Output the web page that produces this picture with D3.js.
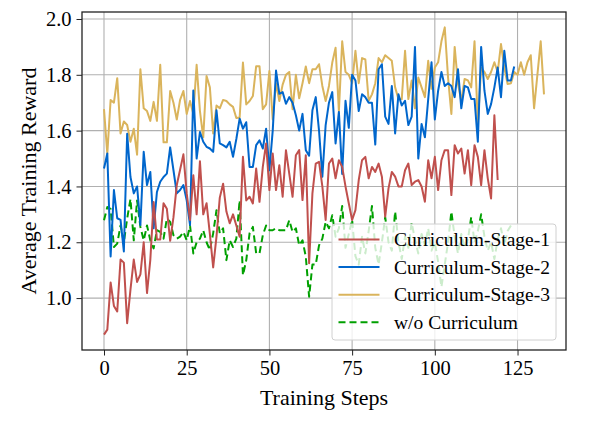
<!DOCTYPE html>
<html>
<head>
<meta charset="utf-8">
<script src="https://cdn.jsdelivr.net/npm/d3@7"></script>
<style>
  html, body { margin: 0; padding: 0; background: #fff; }
  svg text { font-family: "Liberation Serif", "Times New Roman", serif !important; fill: #000; }
</style>
</head>
<body>
<div id="chart"></div>
<script>
// training reward curves (one per step)
const stage1Reward = [
  0.869, 0.887, 1.056, 0.972, 0.952, 1.138, 1.127, 0.91, 1.03, 1.138,
  1.058, 1.085, 1.2, 1.018, 1.137, 1.344, 1.21, 1.21, 1.34, 1.32,
  1.205, 1.29, 1.405, 1.46, 1.515, 1.375, 1.28, 1.44, 1.3, 1.49,
  1.3, 1.34, 1.23, 1.11, 1.22, 1.36, 1.41, 1.31, 1.268, 1.3,
  1.26, 1.22, 1.506, 1.35, 1.363, 1.339, 1.464, 1.345, 1.47, 1.554,
  1.387, 1.518, 1.387, 1.476, 1.363, 1.53, 1.446, 1.363, 1.512, 1.53,
  1.351, 1.512, 1.125, 1.375, 1.482, 1.488, 1.4, 1.28, 1.482, 1.5,
  1.429, 1.494, 1.47, 1.4, 1.339, 1.28, 1.315, 1.423, 1.494, 1.506,
  1.429, 1.47, 1.452, 1.482, 1.435, 1.292, 1.393, 1.452, 1.435, 1.4,
  1.4, 1.458, 1.482, 1.405, 1.417, 1.423, 1.4, 1.345, 1.494, 1.429,
  1.506, 1.387, 1.494, 1.53, 1.53, 1.369, 1.548, 1.518, 1.536, 1.446,
  1.53, 1.405, 1.548, 1.506, 1.405, 1.53, 1.429, 1.357, 1.655, 1.423
];
const stage2Reward = [
  1.464, 1.518, 1.149, 1.387, 1.286, 1.28, 1.167, 1.589, 1.434, 1.375,
  1.4, 1.262, 1.524, 1.405, 1.452, 1.25, 1.38, 1.417, 1.434, 1.446,
  1.54, 1.458, 1.375, 1.387, 1.405, 1.35, 1.262, 1.744, 1.5, 1.595,
  1.56, 1.542, 1.536, 1.524, 1.673, 1.554, 1.548, 1.54, 1.56, 1.506,
  1.57, 1.643, 1.607, 1.63, 1.47, 1.47, 1.548, 1.565, 1.536, 1.607,
  1.458, 1.6, 1.815, 1.732, 1.738, 1.696, 1.72, 1.7, 1.655, 1.6,
  1.66, 1.53, 1.51, 1.673, 1.72, 1.6, 1.435, 1.62, 1.7, 1.738,
  1.554, 1.667, 1.445, 1.707, 1.61, 1.8, 1.78, 1.67, 1.73, 1.72,
  1.7, 1.7, 1.55, 1.82, 1.838, 1.65, 1.624, 1.76, 1.59, 1.73,
  1.69, 1.707, 1.62, 1.65, 1.9, 1.5, 1.624, 1.576, 1.713, 1.845,
  1.64, 1.743, 1.81, 1.76, 1.77, 1.76, 1.72, 1.82, 1.68, 1.76,
  1.755, 1.713, 1.713, 1.56, 1.9, 1.743, 1.66, 1.695, 1.755, 1.826,
  1.72, 1.886, 1.78, 1.78, 1.83
];
const stage3Reward = [
  1.677, 1.517, 1.71, 1.7, 1.788, 1.59, 1.633, 1.62, 1.56, 1.607,
  1.514, 1.82, 1.68, 1.67, 1.635, 1.703, 1.635, 1.836, 1.558, 1.558,
  1.742, 1.7, 1.64, 1.71, 1.742, 1.66, 1.706, 1.66, 1.836, 1.67,
  1.576, 1.796, 1.755, 1.59, 1.69, 1.68, 1.71, 1.706, 1.694, 1.685,
  1.645, 1.647, 1.844, 1.694, 1.706, 1.724, 1.831, 1.831, 1.677, 1.694,
  1.814, 1.64, 1.77, 1.706, 1.765, 1.8, 1.81, 1.677, 1.8, 1.716,
  1.77, 1.83, 1.77, 1.82, 1.82, 1.838, 1.76, 1.706, 1.76, 1.844,
  1.897, 1.67, 1.92, 1.81, 1.8, 1.77, 1.886, 1.77, 1.86, 1.855,
  1.707, 1.73, 1.77, 1.86, 1.845, 1.87, 1.86, 1.85, 1.755, 1.713,
  1.713, 1.886, 1.713, 1.78, 1.68, 1.79, 1.755, 1.72, 1.85, 1.75,
  1.826, 1.845, 1.92, 1.97, 1.79, 1.66, 1.9, 1.767, 1.707, 1.785,
  1.78, 1.755, 1.92, 1.624, 1.826, 1.81, 1.785, 1.81, 1.845, 1.81,
  1.91, 1.826, 1.767, 1.77, 1.81, 1.8, 1.845, 1.8, 1.845, 1.87,
  1.68, 1.8, 1.92, 1.73
];
const noCurriculumReward = [
  1.279, 1.326, 1.32, 1.183, 1.195, 1.26, 1.2, 1.285, 1.355, 1.207,
  1.35, 1.255, 1.207, 1.26, 1.207, 1.178, 1.243, 1.237, 1.213, 1.285,
  1.273, 1.225, 1.213, 1.22, 1.237, 1.207, 1.26, 1.16, 1.2, 1.213,
  1.243, 1.2, 1.172, 1.232, 1.315, 1.232, 1.25, 1.136, 1.207, 1.183,
  1.213, 1.35, 1.082, 1.136, 1.232, 1.255, 1.16, 1.16, 1.225, 1.26,
  1.243, 1.243, 1.25, 1.243, 1.243, 1.243, 1.279, 1.237, 1.25, 1.189,
  1.207, 1.148, 1.005, 1.12, 1.12, 1.189, 1.213, 1.273, 1.25, 1.297,
  1.22, 1.25, 1.33, 1.18, 1.23, 1.28, 1.15, 1.12, 1.22, 1.16,
  1.24, 1.33, 1.18, 1.12, 1.2, 1.29, 1.2, 1.17, 1.31, 1.2,
  1.14, 1.22, 1.18, 1.27, 1.21, 1.16, 1.23, 1.19, 1.25, 1.17,
  1.2, 1.13, 1.04, 1.12, 1.2, 1.31, 1.22, 1.16, 1.23, 1.18,
  1.21, 1.29, 1.2, 1.24, 1.3, 1.22, 1.17, 1.2, 1.14, 1.21,
  1.25, 1.19, 1.24, 1.26
];
const seriesNames = ['Curriculum-Stage-1', 'Curriculum-Stage-2', 'Curriculum-Stage-3', 'w/o Curriculum'];
const xTickValues = [0, 25, 50, 75, 100, 125];
const yTickValues = [1.0, 1.2, 1.4, 1.6, 1.8, 2.0];

// RewardCurveChart
// draws the reward curves in a matplotlib-like frame with grid and legend
class RewardCurveChart {
  constructor(options) {
    this.options = Object.assign({
      elementId: 'chart',
      width: 590,
      height: 438,
      margin: { left: 82, right: 24, top: 12, bottom: 88 },
    }, options);
    this.series = [
      { name: seriesNames[3], values: noCurriculumReward, color: '#00a000', dash: '7,4' },
      { name: seriesNames[2], values: stage3Reward, color: '#dab45c', dash: null },
      { name: seriesNames[1], values: stage2Reward, color: '#0066cc', dash: null },
      { name: seriesNames[0], values: stage1Reward, color: '#c0504d', dash: null },
    ];
  }
  // initDiagram()
  // builds svg, scales and every part of the chart
  initDiagram() {
    const o = this.options;
    this.svg = d3.select('#' + o.elementId).append('svg')
      .attr('width', o.width)
      .attr('height', o.height);
    this.plotLeft = o.margin.left;
    this.plotRight = o.width - o.margin.right;
    this.plotTop = o.margin.top;
    this.plotBottom = o.height - o.margin.bottom;
    this.createScales();
    this.drawGrid();
    this.drawLines();
    this.drawAxes();
    this.drawLegend();
  }
  // createScales()
  // data extent plus 5% padding on both sides, as matplotlib does
  createScales() {
    const all = this.series.map(s => s.values);
    const xMax = d3.max(all, v => v.length - 1);
    const yMin = d3.min(all, v => d3.min(v));
    const yMax = d3.max(all, v => d3.max(v));
    const xPad = xMax * 0.05;
    const yPad = (yMax - yMin) * 0.05;
    this.xScale = d3.scaleLinear().domain([-xPad, xMax + xPad]).range([this.plotLeft, this.plotRight]);
    this.yScale = d3.scaleLinear().domain([yMin - yPad, yMax + yPad]).range([this.plotBottom, this.plotTop]);
  }
  drawGrid() {
    const g = this.svg.append('g').attr('class', 'grid');
    g.selectAll('line.gx').data(xTickValues).enter().append('line')
      .attr('x1', d => this.xScale(d)).attr('x2', d => this.xScale(d))
      .attr('y1', this.plotTop).attr('y2', this.plotBottom)
      .attr('stroke', '#b0b0b0').attr('stroke-width', 1.1);
    g.selectAll('line.gy').data(yTickValues).enter().append('line')
      .attr('x1', this.plotLeft).attr('x2', this.plotRight)
      .attr('y1', d => this.yScale(d)).attr('y2', d => this.yScale(d))
      .attr('stroke', '#b0b0b0').attr('stroke-width', 1.1);
  }
  drawLines() {
    const line = d3.line()
      .x((d, i) => this.xScale(i))
      .y(d => this.yScale(d));
    const g = this.svg.append('g').attr('class', 'curves');
    for (const s of this.series) {
      g.append('path')
        .datum(s.values)
        .attr('d', line)
        .attr('fill', 'none')
        .attr('stroke', s.color)
        .attr('stroke-width', 2)
        .attr('stroke-linejoin', 'round')
        .attr('stroke-dasharray', s.dash);
    }
  }
  drawAxes() {
    const xAxis = d3.axisBottom(this.xScale).tickValues(xTickValues).tickSize(5.5).tickPadding(5).tickFormat(d3.format('d'));
    const yAxis = d3.axisLeft(this.yScale).tickValues(yTickValues).tickSize(5.5).tickPadding(5).tickFormat(d3.format('.1f'));
    const gx = this.svg.append('g').attr('transform', 'translate(0,' + this.plotBottom + ')').call(xAxis);
    const gy = this.svg.append('g').attr('transform', 'translate(' + this.plotLeft + ',0)').call(yAxis);
    for (const g of [gx, gy]) {
      g.attr('font-family', null).attr('font-size', null);
      g.select('.domain').remove();
      g.selectAll('.tick line').attr('stroke', '#222').attr('stroke-width', 1);
      g.selectAll('.tick text')
        .style('font-size', '20.5px')
        .attr('fill', '#000');
    }
    // frame
    this.svg.append('rect')
      .attr('x', this.plotLeft).attr('y', this.plotTop)
      .attr('width', this.plotRight - this.plotLeft).attr('height', this.plotBottom - this.plotTop)
      .attr('fill', 'none').attr('stroke', '#222').attr('stroke-width', 1.3);
    // axis titles
    this.svg.append('text')
      .attr('x', (this.plotLeft + this.plotRight) / 2).attr('y', 405)
      .attr('text-anchor', 'middle').style('font-size', '22px')
      .text('Training Steps');
    this.svg.append('text')
      .attr('transform', 'translate(35.5,' + (this.plotTop + this.plotBottom) / 2 + ') rotate(-90)')
      .attr('text-anchor', 'middle').style('font-size', '22px')
      .text('Average Training Reward');
  }
  drawLegend() {
    const box = { x: 332, y: 224, w: 224, h: 116 };
    const g = this.svg.append('g').attr('class', 'legend');
    g.append('rect')
      .attr('x', box.x).attr('y', box.y).attr('width', box.w).attr('height', box.h)
      .attr('rx', 3).attr('ry', 3)
      .attr('fill', '#fff').attr('fill-opacity', 0.8)
      .attr('stroke', '#d0d0d0').attr('stroke-width', 1);
    const entries = this.series.slice().reverse();
    const rows = g.selectAll('g.row').data(entries).enter().append('g')
      .attr('transform', (d, i) => 'translate(0,' + (239.5 + i * 27.6) + ')');
    rows.append('line')
      .attr('x1', 338.5).attr('x2', 379.5).attr('y1', 0).attr('y2', 0)
      .attr('stroke', d => d.color).attr('stroke-width', 2)
      .attr('stroke-dasharray', d => d.dash);
    rows.append('text')
      .attr('x', 394).attr('y', 0).attr('dy', '0.34em')
      .style('font-size', '19.5px')
      .text(d => d.name);
  }
}

const chart = new RewardCurveChart({ elementId: 'chart' });
chart.initDiagram();
</script>
</body>
</html>
